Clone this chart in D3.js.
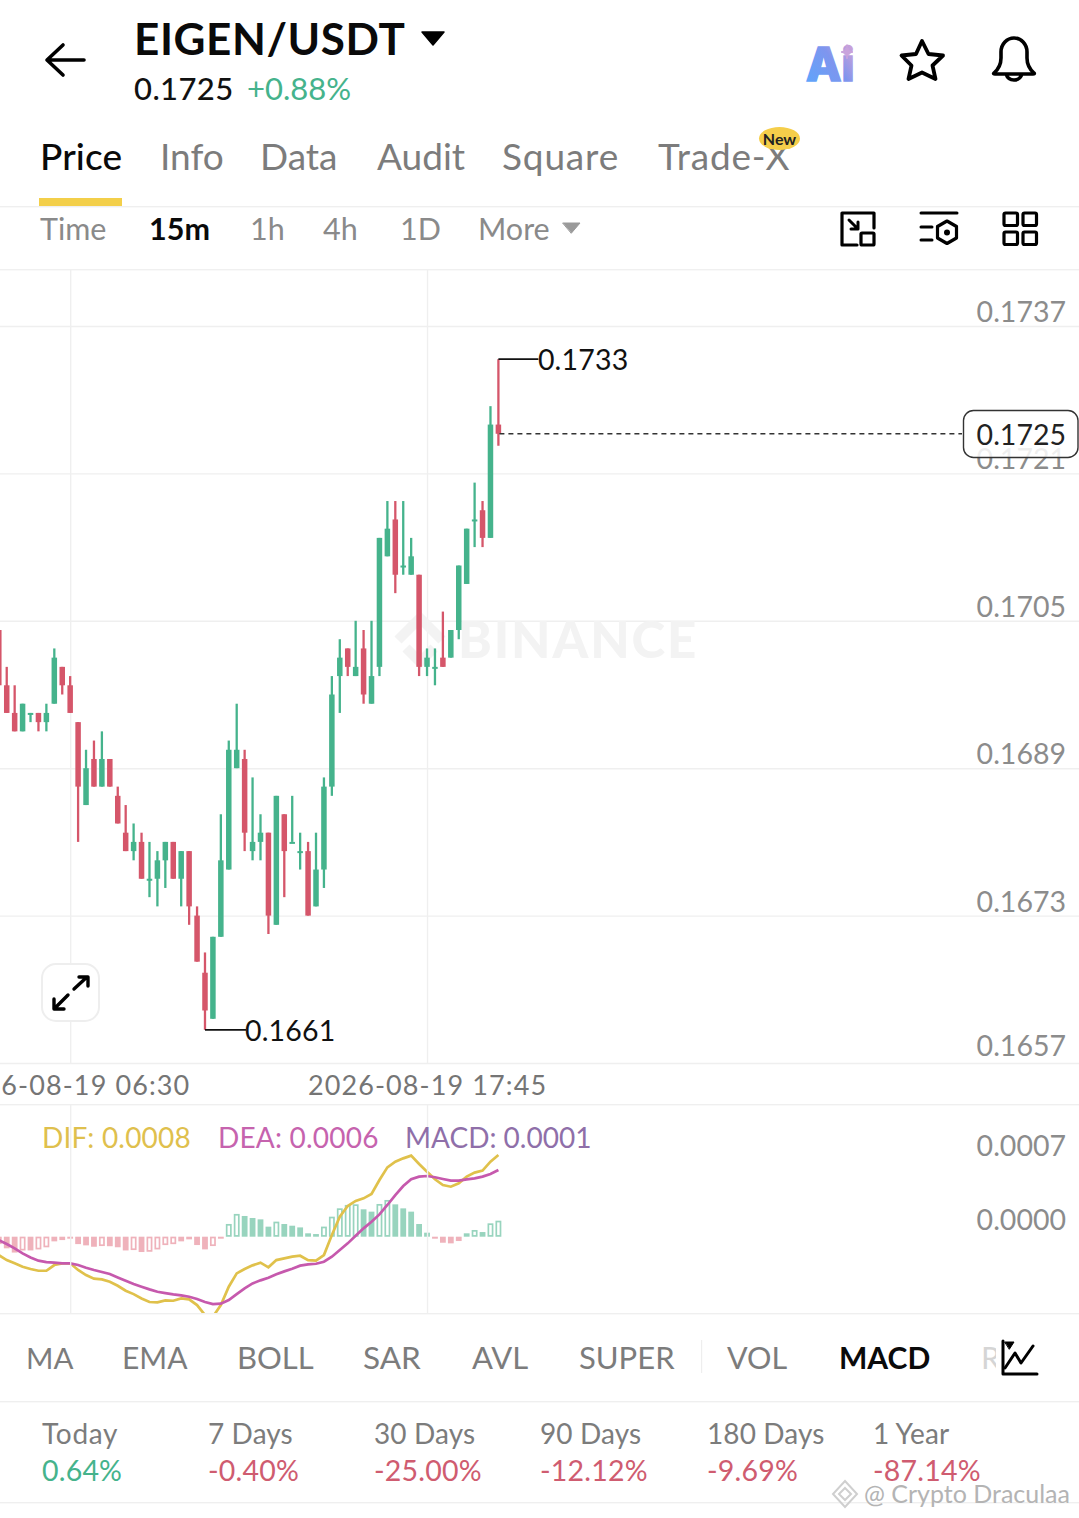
<!DOCTYPE html>
<html><head><meta charset="utf-8">
<style>html,body{margin:0;padding:0;background:#fff}svg{display:block}text{font-family:Lato,"Open Sans",sans-serif}</style>
<script src="https://cdn.jsdelivr.net/npm/d3@7"></script></head><body>
<svg id="c" width="1079" height="1518" viewBox="0 0 1079 1518"></svg>
<script>
const opens=[.1704,.1698,.1695,.1693,.1695,.1695,.1694,.1696,.1700,.1698,.1694,.1685,.1690,.1687,.1690,.1686,.1682,.1680,.1681,.1677,.1677,.1679,.1681,.1677,.1680,.1673,.16668,.16618,.16707,.1678,.1689,.1690,.1680,.1681,.1682,.1672,.1684,.1681,.1680,.1680,.1674,.1678,.1687,.1699,.1702,.1699,.1702,.1696,.1700,.1712,.1716,.1711,.1710,.1710,.1700,.1700,.1701,.1701,.1704,.1709,.1716,.1717,.1714,.17263];
const highs=[.1704,.1700,.1698,.1696,.1695,.1695,.1696,.1702,.1700,.1699,.1694,.1691,.1692,.1693,.1690,.1687,.1685,.1683,.1682,.1681,.1680,.1681,.1681,.1680,.1680,.1674,.1669,.16707,.1684,.1692,.1696,.1691,.1688,.1684,.1682,.1686,.1684,.1686,.1682,.1681,.1682,.1688,.1699,.1703,.1702,.1705,.1704,.1705,.1714,.1718,.1718,.1718,.1714,.1710,.1702,.1702,.1706,.1704,.1711,.1715,.1720,.1718,.17283,.17334];
const lows=[.1697,.1695,.1693,.1693,.1694,.1693,.1693,.1696,.1697,.1695,.1681,.1685,.1687,.1687,.1687,.1683,.1680,.1679,.1677,.1675,.1674,.1676,.1677,.1674,.1672,.1668,.16606,.16618,.16707,.1678,.1689,.1680,.1679,.1679,.1671,.1672,.1675,.1681,.1678,.1673,.1674,.1676,.1686,.1695,.1699,.1699,.1696,.1696,.1699,.1712,.1708,.1710,.1710,.1699,.1699,.1698,.1700,.1701,.1703,.1709,.1713,.1713,.1714,.1724];
const closes=[.1698,.1695,.1693,.1696,.1695,.1694,.1695,.1701,.1698,.1695,.1687,.1689,.1687,.1690,.1687,.1683,.1680,.1681,.1677,.1677,.1679,.1681,.1677,.1680,.1674,.1668,.16627,.16707,.1679,.1691,.1691,.1682,.1681,.1682,.1673,.1686,.1680,.1681,.1680,.1673,.1678,.1687,.1697,.1701,.1700,.1700,.1697,.1699,.1714,.1715,.1710,.1711,.1712,.1700,.1701,.1700,.1700,.1704,.1711,.1715,.1716,.1714,.17263,.17253];
const dif=[-17.4,-22.1,-25.2,-28.4,-30.6,-32.2,-32.2,-26.8,-25.2,-25.2,-31.5,-36.3,-39.7,-40.4,-42.6,-46.4,-51.1,-54.3,-58.4,-61.8,-62.1,-60.3,-60.6,-58.4,-59.3,-64.7,-74.1,-75.7,-64.7,-47.3,-34.7,-30.6,-27.1,-24.6,-29,-22.1,-20.5,-18.9,-18,-22.1,-22.7,-17.4,1.6,18.9,29,33.8,36.3,40.4,53.6,65.6,71,74.1,76.7,68.8,61.5,54.3,48.9,47.3,50.5,56.8,60.6,62.5,71,77.3];
const dea=[-3.2,-6.9,-11,-15.8,-19.6,-22.7,-24,-24.6,-25.2,-25.2,-26.8,-29.3,-31.5,-33.4,-35.3,-38.5,-41.6,-44.8,-47.3,-49.8,-52.1,-53.3,-54.6,-55.5,-56.8,-59,-61.8,-63.7,-63.4,-59.9,-54.3,-48.9,-44.2,-41.3,-38.8,-35.6,-32.8,-30.3,-27.4,-26.2,-25.6,-23.7,-18.9,-12.6,-6.3,.9,7.9,14.2,21.1,30,39.4,47.9,54.3,56.8,57.4,56.2,54.6,53,53,54.3,55.2,56.8,59.3,63.1];
const hist=[-7,-11,-15,-13,-13,-12,-10,-4.4,-3.2,-1.6,-7,-8.2,-9.5,-8.8,-9,-10,-13,-12.6,-14.5,-14.2,-12,-7.9,-7,-4.4,-2.5,-7.9,-12,-8.8,-1,12,21.5,19.6,17.7,16.4,9.5,14.2,12,10.4,8.8,3.2,2.5,9.5,18.9,26.8,30,30.6,25.9,23.7,30.9,34.7,30.6,26.8,23.7,12,3.8,-1,-5.7,-6.3,-4.1,3.2,6.3,4.4,12.6,15.1];
const priceTicks=[.1737,.1721,.1705,.1689,.1673,.1657];
const macdTicks=[7e-4,0];
const timeIdx=[9,54];
const timeLabels=["2026-08-19 06:30","2026-08-19 17:45"];
const tabs=["Price","Info","Data","Audit","Square","Trade-X"];
const intervals=["Time","15m","1h","4h","1D","More"];
const indicators=["MA","EMA","BOLL","SAR","AVL","SUPER","VOL","MACD","R"];
const periods=["Today","7 Days","30 Days","90 Days","180 Days","1 Year"];
const periodValues=["0.64%","-0.40%","-25.00%","-12.12%","-9.69%","-87.14%"];

const GREEN="#45b38c",RED="#d5566a",GRID="#efefef",GREY="#7c7c7c",AXIS="#8c8c8c";
const svg=d3.select("#c");
const defs=svg.append("defs");
defs.append("clipPath").attr("id","main").append("rect").attr("x",0).attr("y",270).attr("width",1079).attr("height",793);
defs.append("clipPath").attr("id","sub").append("rect").attr("x",0).attr("y",1105).attr("width",1079).attr("height",208);
const g0=defs.append("linearGradient").attr("id","ai").attr("gradientUnits","userSpaceOnUse").attr("x1",807).attr("y1",82).attr("x2",853).attr("y2",50);
g0.append("stop").attr("offset","0").attr("stop-color","#5fa4fb");g0.append("stop").attr("offset",".6").attr("stop-color","#7f95ee");g0.append("stop").attr("offset","1").attr("stop-color","#c8a0da");

function T(x,y,s,size,fill,opt={}){const t=svg.append("text").attr("x",x).attr("y",y).attr("font-size",size).attr("fill",fill).text(s);
 if(opt.w)t.attr("font-weight",opt.w);if(opt.a)t.attr("text-anchor",opt.a);if(opt.ls)t.attr("letter-spacing",opt.ls);if(opt.o)t.attr("opacity",opt.o);if(opt.f)t.style("font-family",opt.f);return t;}
function P(d,stroke="#000",sw=3.6,fill="none"){return svg.append("path").attr("d",d).attr("fill",fill).attr("stroke",stroke).attr("stroke-width",sw).attr("stroke-linecap","round").attr("stroke-linejoin","round");}
function H(y,c=GRID,h=1.4){svg.append("rect").attr("x",0).attr("y",y).attr("width",1079).attr("height",h).attr("fill",c);}

// header
P("M84 60H48M63 45L47 60L63 75",'#000',3.6);
T(134,55,"EIGEN/USDT",44,"#0a0a0a",{w:700,ls:.6});
P("M422 32H444L433 45Z","#000",1.5,"#000");
T(134,100,"0.1725",31,"#111",{w:500,ls:.4});
T(247,100,"+0.88%",31,GREEN);
// AI
T(806,81,"Ai",46,"url(#ai)",{w:800,f:"Inter"}).attr("stroke","url(#ai)").attr("stroke-width",1.6);
P("M847 45Q848 51 853 52Q848 53 847 59Q846 53 841 52Q846 51 847 45Z","#c9a3dc",1,"#c9a3dc");
// star, bell
P("M922 41L928.5 54L943 55.5L932.5 65.5L935.5 79L922 72.5L908.5 79L911.5 65.5L901.5 55.5L916 54Z","#000",3.8);
P("M994 73Q1001 67 1001 58V52C1001 44 1007 38 1014 38C1021 38 1027 44 1027 52V58Q1027 67 1034 73Q1035 74 1033 74H995Q993 74 994 73ZM1006 74Q1008 80 1014 80Q1020 80 1022 74","#000",3.6);

// tabs
const tabX=[40,160,260,377,502,658];
const tabLs=[.1,0,0,0,.85,.85];
tabs.forEach((s,i)=>T(tabX[i],170,s,37,i?GREY:"#0a0a0a",{w:i?400:500,ls:tabLs[i]}));
svg.append("ellipse").attr("cx",779.5).attr("cy",138.5).attr("rx",20.5).attr("ry",11.5).attr("fill","#f5ce4a");
T(779.5,144.5,"New",16,"#222",{a:"middle",w:700});
svg.append("rect").attr("x",39).attr("y",198).attr("width",83).attr("height",8).attr("fill","#f3cf4a");
H(206);
const intX=[40,149,250,323,400,478];
intervals.forEach((s,i)=>T(intX[i],240,s,30.5,i==1?"#0a0a0a":"#8a8a8a",{w:i==1?700:400}));
P("M563 223H580L571.5 233Z","#9a9a9a",1,"#9a9a9a");
// toolbar icons
P("M842 213H874V228M842 213V245H857","#000",3.2);
svg.append("rect").attr("x",861).attr("y",233).attr("width",13).attr("height",12).attr("fill","none").attr("stroke","#000").attr("stroke-width",3.2).attr("rx",1);
P("M849 220L858 229M858 222V229H851","#000",3);
P("M921 213H957M921 227H932M921 240H932","#000",3);
P("M947 221L956.5 226.5V238L947 243.5L937.5 238V226.5Z","#000",3.2);
svg.append("circle").attr("cx",947).attr("cy",232.5).attr("r",3).attr("fill","#000");
[[1004,213],[1023,213],[1004,232],[1023,232]].forEach(p=>svg.append("rect").attr("x",p[0]).attr("y",p[1]).attr("width",13.5).attr("height",12.5).attr("rx",1.5).attr("fill","none").attr("stroke","#000").attr("stroke-width",3.2));
H(269,"#f0f0f0");

// scales
const x=d3.scaleLinear().domain([0,63]).range([-1.2,498.4]);
const y=d3.scaleLinear().domain([.1657,.1737]).range([1063,326]);
const ym=d3.scaleLinear().domain([0,7e-4]).range([1236.7,1162.7]);
const ymE5=v=>ym(v*1e-5);

// main grid through axes
const vAxis=svg.append("g").attr("transform","translate(0,1063)").call(d3.axisBottom(x).tickValues(timeIdx).tickSize(-793).tickFormat((d,i)=>timeLabels[i]));
vAxis.select(".domain").remove();
vAxis.selectAll("line").attr("stroke",GRID).attr("stroke-width",1.4);
vAxis.selectAll("text").attr("y",32).attr("dy",0).attr("font-size",27).attr("letter-spacing",1.1).attr("fill","#757575").style("font-family","Lato");
const yAxis=svg.append("g").call(d3.axisRight(y).tickValues(priceTicks).tickSize(1079).tickFormat(d3.format(".4f")));
yAxis.select(".domain").remove();
yAxis.selectAll("line").attr("stroke",GRID).attr("stroke-width",1.4);
yAxis.selectAll("text").attr("x",1066).attr("dy",d=>d===.1657?-8:-4.6).attr("text-anchor","end").attr("font-size",28.5).attr("fill",AXIS).style("font-family","Lato");

// Binance watermark
T(458,658,"BINANCE",51,"#f3f3f3",{w:900,ls:1.9});
svg.append("g").attr("fill","none").attr("stroke","#f3f3f3").attr("stroke-width",10).selectAll("path").data(["M398 640L420 618L442 640","M406 648L420 662L434 648"]).join("path").attr("d",d=>d);

// candles
const idx=d3.range(opens.length);
const cg=svg.append("g").attr("clip-path","url(#main)");
const col=i=>closes[i]>=opens[i]?GREEN:RED;
cg.selectAll("line.w").data(idx).join("line").attr("class","w").attr("x1",x).attr("x2",x).attr("y1",i=>y(highs[i])).attr("y2",i=>y(lows[i])).attr("stroke",col).attr("stroke-width",2.3);
cg.selectAll("rect.b").data(idx).join("rect").attr("class","b").attr("x",i=>x(i)-2.75).attr("width",5.5).attr("y",i=>y(Math.max(opens[i],closes[i]))).attr("height",i=>Math.max(2,Math.abs(y(opens[i])-y(closes[i])))).attr("fill",col);

// high / low / last markers
const hiI=d3.maxIndex(highs),loI=d3.minIndex(lows),last=closes.length-1;
svg.append("path").attr("d",`M${x(hiI)} ${y(highs[hiI])}H${x(hiI)+40}`).attr("stroke","#111").attr("stroke-width",1.6);
T(x(hiI)+39.5,y(highs[hiI])+11,"0.1733",28.5,"#111",{ls:.2});
svg.append("path").attr("d",`M${x(loI)} ${y(lows[loI])}H${x(loI)+41}`).attr("stroke","#111").attr("stroke-width",1.6);
T(x(loI)+40,y(lows[loI])+11,"0.1661",28.5,"#111",{ls:.2});
svg.append("line").attr("x1",x(last)+1).attr("x2",962).attr("y1",y(closes[last])).attr("y2",y(closes[last])).attr("stroke","#333").attr("stroke-width",1.5).attr("stroke-dasharray","5 4");
svg.append("rect").attr("x",963.5).attr("y",410.5).attr("width",114.5).attr("height",47).attr("rx",10).attr("fill","#fff").attr("fill-opacity",.85).attr("stroke","#333").attr("stroke-width",1.4);
T(1066,445,"0.1725",28.5,"#222",{a:"end"});

// expand button
svg.append("rect").attr("x",42).attr("y",964).attr("width",57).attr("height",57).attr("rx",14).attr("fill","#fff").attr("stroke","#eeeeee").attr("stroke-width",2);
P("M74 989L87 977M79 977H88V986M68 995L55 1008M54 999V1009H64","#000",3.4);

H(1104);
// MACD sub chart
const ms=svg.append("g").attr("clip-path","url(#sub)");
const vm=svg.append("g").attr("transform","translate(0,1313)").call(d3.axisBottom(x).tickValues(timeIdx).tickSize(-208).tickFormat(""));
vm.select(".domain").remove();vm.selectAll("line").attr("stroke",GRID).attr("stroke-width",1.4);
const mAxis=svg.append("g").call(d3.axisRight(ym).tickValues(macdTicks).tickSize(0).tickFormat(d3.format(".4f")));
mAxis.select(".domain").remove();
mAxis.selectAll("text").attr("x",1066).attr("dy",-7.2).attr("text-anchor","end").attr("font-size",28.5).attr("fill",AXIS).style("font-family","Lato");
const hollow=i=>i>0&&hist[i]>hist[i-1]&&Math.abs(hist[i])>5;
const hc=i=>hist[i]>=0?"#98d4be":"#efb2bb";
ms.selectAll("rect.h").data(idx).join("rect").attr("class","h")
 .attr("x",i=>x(i)-2.9+(hollow(i)?.8:0)).attr("width",i=>hollow(i)?4.2:5.8)
 .attr("y",i=>Math.min(ymE5(hist[i]),ymE5(0))+(hollow(i)?.8:0))
 .attr("height",i=>Math.max(2,Math.abs(ymE5(hist[i])-ymE5(0))-(hollow(i)?1.6:0)))
 .attr("fill",i=>hollow(i)?"none":hc(i)).attr("stroke",i=>hollow(i)?hc(i):"none").attr("stroke-width",1.7);
const ln=d3.line().x((d,i)=>x(i)).y(d=>ymE5(d));
ms.append("path").attr("d",ln(dif)).attr("fill","none").attr("stroke","#e0c14b").attr("stroke-width",2.7);
ms.append("path").attr("d",ln(dea)).attr("fill","none").attr("stroke","#c659ad").attr("stroke-width",2.7);
T(42,1147.5,"DIF: 0.0008",28,"#dfc04d",{ls:.2});
T(218,1147.5,"DEA: 0.0006",28,"#c663ae",{ls:.2});
T(405,1147.5,"MACD: 0.0001",28,"#8f6fa9");
H(1313);

// indicator row
const indX=[26,122,237,363,472,579,727,839,981];
const indS=[29.5,30,31,31.5,31,31,30.5,30,31];
indicators.forEach((s,i)=>T(indX[i],1369,s,indS[i],i==7?"#0a0a0a":i==8?"#d5d5d5":GREY,{w:i==7?700:400}));
svg.append("rect").attr("x",701).attr("y",1340).attr("width",1.2).attr("height",33).attr("fill","#eee");
svg.append("rect").attr("x",996).attr("y",1335).attr("width",46).attr("height",44).attr("fill","#fff");
P("M1003 1341V1374H1037","#000",3);
P("M1005 1368L1015 1353L1021 1363L1033 1346","#000",3);
P("M1005 1342H1014L1009.5 1349Z","#000",1,"#000");
H(1401);
const perX=[42,208,374,540,707,873];
periods.forEach((s,i)=>T(perX[i],1443.5,s,28,GREY,{ls:i==0?.7:.1}));
periodValues.forEach((s,i)=>T(perX[i],1480.5,s,28.5,s[0]=="-"?"#cf5c70":GREEN,{ls:.2}));
H(1502);
// corner watermark
T(864,1503,"@ Crypto Draculaa",25,"#b4b4b4");
svg.append("g").attr("fill","none").attr("stroke","#cfcfcf").attr("stroke-width",2).selectAll("path").data(["M845 1481L857 1494L845 1507L833 1494Z","M845 1488L851 1494L845 1500L839 1494Z"]).join("path").attr("d",d=>d);
</script></body></html>
